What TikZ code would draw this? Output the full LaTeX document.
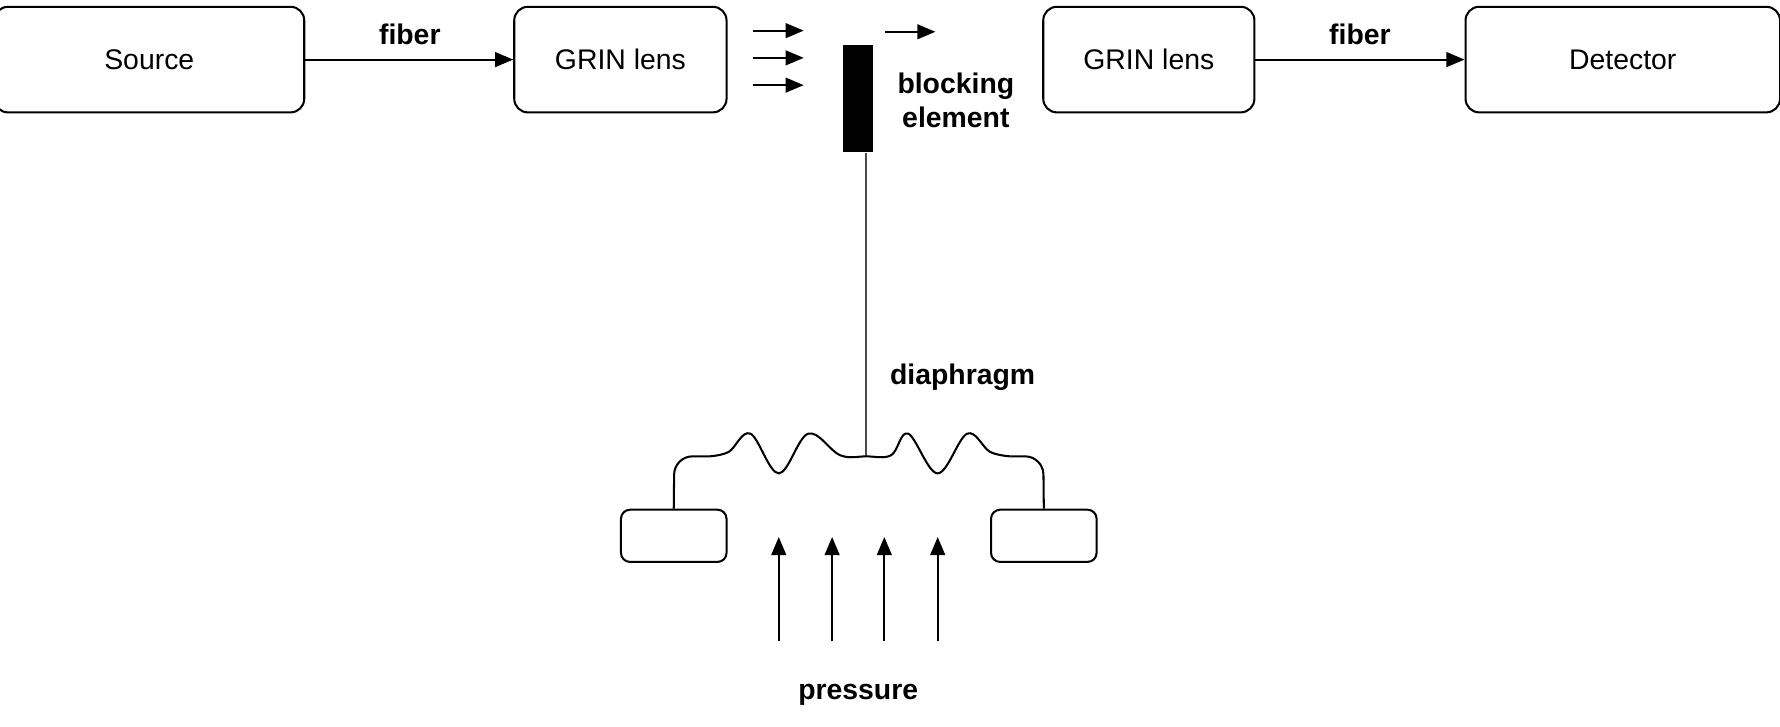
\documentclass[tikz,border=0pt]{standalone}
\usepackage{fontspec}
\setmainfont{Liberation Sans}
\usetikzlibrary{arrows.meta}
\tikzstyle{block} = [rectangle, rounded corners=6pt, draw=black, line width=0.9pt, minimum height=46.5pt, text centered, font=\fontsize{12.5}{15}\selectfont]
\tikzstyle{mount} = [rectangle, rounded corners=4pt, draw=black, line width=0.9pt, minimum width=46.5pt, minimum height=23pt]
\tikzstyle{tag} = [font=\bfseries\fontsize{12.5}{15}\selectfont, align=center]
\tikzstyle{arrow} = [line width=0.9pt, -{Triangle[length=8pt,width=6.5pt]}]
\begin{document}
\begin{tikzpicture}[x=0.5pt, y=-0.5pt]
\clip (0,0) rectangle (1568,640);
\useasboundingbox (0,0) rectangle (1568,640);

\node (source) [block, minimum width=136.5pt] at (131.5,52.5) {Source};
\node (grin1) [block, minimum width=93.5pt] at (546.5,52.5) {GRIN lens};
\node (grin2) [block, minimum width=93pt] at (1012,52.5) {GRIN lens};
\node (detector) [block, minimum width=138.5pt] at (1429.5,52.5) {Detector};
\node (block) [rectangle, fill=black, minimum width=13pt, minimum height=47pt, inner sep=0pt] at (756,87) {};
\node (mountL) [mount] at (593.5,472) {};
\node (mountR) [mount] at (919.5,472) {};

\node (fiber1) [tag] at (361,30) {fiber};
\node (fiber2) [tag] at (1198,30) {fiber};
\node (blocklabel) [tag] at (842,88) {blocking\\element};
\node (diaphragm) [tag] at (848,332) {diaphragm};
\node (pressure) [tag] at (756,612) {pressure};

\draw [arrow] (source) -- (grin1);
\draw [arrow] (grin2) -- (detector);

% light beam
\foreach \y in {27,51,75}
  \draw [arrow] (663,\y) -- (708,\y);
\draw [arrow] (780,28) -- (824,28);

% diaphragm
\coordinate (stem) at (763,402);
\draw [line width=0.9pt, gray!60!black] ([xshift=3.5pt]block.south) -- (stem);
\draw [line width=0.9pt, rounded corners=8pt] (mountL.north) -- (594,402) -- (625,402);
\draw [line width=0.9pt] plot [smooth, tension=0.6] coordinates {(625,402) (642,398) (661,382) (686,417) (712,382) (740,401) (763,402) (785,401) (800,382) (826,417) (852,382) (872,398) (890,402)};
\draw [line width=0.9pt, rounded corners=8pt] (890,402) -- (919,402) -- (mountR.north);

\foreach \x in {686,733,779,826}
  \draw [arrow] (\x,565) -- (\x,473);

\end{tikzpicture}
\end{document}
